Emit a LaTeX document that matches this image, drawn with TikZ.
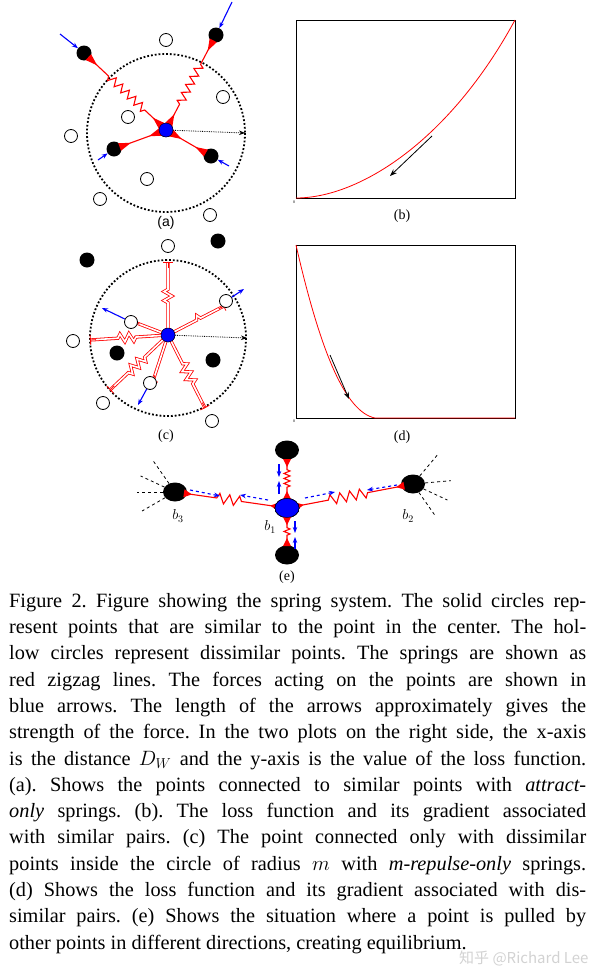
\documentclass[tikz,border=0pt]{standalone}
\usepackage{fontspec}
\setmainfont{Liberation Serif}
\newfontfamily\lsans{Liberation Sans}
\newfontfamily\cjk{Noto Sans CJK SC}
\usetikzlibrary{decorations.pathmorphing,arrows.meta,calc,shapes.geometric}
\frenchspacing
\begin{document}
\begin{tikzpicture}[x=1pt,y=-1pt,
  hol/.style={circle,draw,thick,fill=white,minimum size=13pt,inner sep=0},
  sol/.style={circle,fill=black,minimum size=15pt,inner sep=0},
  ctr/.style={circle,draw=black,fill=blue,minimum size=14pt,inner sep=0},
  spr/.style={red,line width=1.1pt,decorate,decoration={zigzag,segment length=9pt,amplitude=4pt,pre length=22pt,post length=22pt}},
  rspr/.style={draw=red,double=white,double distance=1.6pt,thick,decorate,decoration={zigzag,segment length=9pt,amplitude=4pt,pre length=25pt,post length=25pt}},
  force/.style={blue,line width=1.1pt,-{Stealth[length=6pt]}},
  dforce/.style={blue,line width=1.1pt,dashed,-{Stealth[length=6pt]}},
  radius/.style={densely dotted,thick,-{Stealth[length=6pt]}},
  bnd/.style={dotted,line width=1.8pt},
  ray/.style={dashed,thick},
  lab/.style={font=\fontsize{14}{14}\selectfont}
]
\useasboundingbox (0,0) rectangle (600,972);
\newcommand\sprtri[4]{% node, other, base offset, apex offset
  \fill[red] ($(#1)!#3!(#2)!4pt!90:(#2)$) -- ($(#1)!#3!(#2)!4pt!-90:(#2)$) -- ($(#1)!#4!(#2)$) -- cycle;}
% ---------- (a)
\draw[bnd] (166,133) circle (79);
\node[ctr] (ac) at (166,130) {};
\node[sol] (a1) at (84,53) {};
\node[sol] (a2) at (216,35) {};
\node[sol] (a3) at (114,149) {};
\node[sol] (a4) at (211,156) {};
\foreach \n/\p in {h1/{(166,40)},h2/{(223,97)},h3/{(128,117)},h4/{(71,136)},h5/{(147,179)},h6/{(100,199)},h7/{(210,215)}}
  \node[hol] (a\n) at \p {};
\foreach \t in {a1,a2,a3,a4}{
  \draw[spr] (ac) -- (\t);
  \sprtri{ac}{\t}{6pt}{18pt}
  \sprtri{\t}{ac}{6pt}{18pt}
}
\node[ctr] at (ac) {};
\coordinate (aq1) at (60,34); \coordinate (aq2) at (232,2);
\coordinate (aq3) at (98,160); \coordinate (aq4) at (229,166);
\draw[force] (aq1) -- (a1); \draw[force] (aq2) -- (a2);
\draw[force] (aq3) -- (a3); \draw[force] (aq4) -- (a4);
\coordinate (ar) at (245,133);
\draw[radius] (ac) -- (ar);
\node[lab,font=\lsans\fontsize{14}{14}\selectfont] (la) at (166,223) {(a)};
% ---------- (b)
\draw[thin] (296,20) rectangle (515,198);
\node[font=\fontsize{4}{4}\selectfont] (b0) at (294,202) {0};
\draw[red,thick] (296,198) .. controls (360,198) and (450,140) .. (515,20);
\coordinate (bs) at (432,136); \coordinate (be) at (390,176);
\draw[thick,-{Stealth[length=7pt]}] (bs) -- (be);
\node[lab] (lb) at (402,216) {(b)};
% ---------- (c)
\draw[bnd] (168,338) circle (78);
\node[ctr] (cc) at (168,335) {};
\node[sol] (c1) at (87,260) {};
\node[sol] (c2) at (218,241) {};
\node[sol] (c3) at (117,353) {};
\node[sol] (c4) at (213,360) {};
\coordinate (ct1) at (168,262); \coordinate (ct2) at (224,306);
\coordinate (ct3) at (90,340);  \coordinate (ct4) at (110,390);
\coordinate (ct5) at (205,408); \coordinate (ct6) at (134,322);
\coordinate (ct7) at (153,381);
\foreach \t in {ct1,ct2,ct3,ct4,ct5,ct6,ct7}{
  \draw[rspr] (cc) -- (\t);
  \draw[red,thick,-{Bar[width=10pt]}] ($(\t)!6pt!(cc)$) -- (\t);
}
\node[hol] (ch1) at (168,246) {};
\node[hol] (ch2) at (226,301) {};
\node[hol] (ch3) at (131,322) {};
\node[hol] (ch4) at (73,341) {};
\node[hol] (ch5) at (150,383) {};
\node[hol] (ch6) at (103,403) {};
\node[hol] (ch7) at (212,421) {};
\node[ctr] at (cc) {};
\coordinate (cf1) at (102,308); \coordinate (cf2) at (244,289); \coordinate (cf3) at (138,405);
\draw[force] (ch3) -- (cf1); \draw[force] (ch2) -- (cf2); \draw[force] (ch5) -- (cf3);
\coordinate (cr) at (247,338);
\draw[radius] (cc) -- (cr);
\node[lab] (lc) at (166,436) {(c)};
% ---------- (d)
\draw[thin] (296,245) rectangle (515,418);
\node[font=\fontsize{4}{4}\selectfont] (d0) at (294,421) {0};
\draw[red,thick] (296,245) .. controls (320,350) and (345,412) .. (375,418) -- (515,418);
\coordinate (ds) at (330,355); \coordinate (de) at (349,399);
\draw[thick,-{Stealth[length=7pt]}] (ds) -- (de);
\node[lab] (ld) at (402,437) {(d)};
% ---------- (e)
\tikzset{eb/.style={ellipse,fill=black,minimum width=24pt,minimum height=19pt,inner sep=0},
         ebc/.style={ellipse,draw=black,fill=blue,minimum width=24pt,minimum height=19pt,inner sep=0}}
\node[ebc] (e1) at (287,508) {};
\node[eb] (et) at (287,450) {};
\node[eb] (eb) at (287,555) {};
\node[eb] (e3) at (175,492) {};
\node[eb] (e2) at (413,484) {};
\foreach \a in {150,180,205,235}{
  \coordinate (r3\a) at ($(e3)+(\a:38)$);
  \draw[ray] (e3) -- (r3\a);}
\foreach \a in {-50,-5,25,55}{
  \coordinate (r2\a) at ($(e2)+(\a:38)$);
  \draw[ray] (e2) -- (r2\a);}
\tikzset{espr/.style={red,line width=1.1pt,decorate,decoration={zigzag,segment length=10pt,amplitude=5pt,pre length=30pt,post length=30pt}},
         esprv/.style={red,line width=1.1pt,decorate,decoration={zigzag,segment length=5pt,amplitude=3pt,pre length=10pt,post length=10pt}}}
\draw[espr] (e3) -- (e1);
\draw[espr] (e1) -- (e2);
\draw[esprv] (et) -- (e1);
\draw[esprv] (e1) -- (eb);
\foreach \s/\t in {e3/e1,e1/e3,e1/e2,e2/e1,et/e1,e1/et,eb/e1,e1/eb}
  \sprtri{\s}{\t}{9pt}{17pt}
\node[ebc] at (e1) {};
\draw[dforce] (190,490) -- (220,496);
\draw[dforce] (268,500) -- (240,495);
\draw[dforce] (305,498) -- (335,492);
\draw[dforce] (397,485) -- (367,490);
\draw[force] (279,464) -- (279,477);
\draw[force] (279,494) -- (279,481);
\draw[force] (295,521) -- (295,533);
\draw[force] (295,549) -- (295,537);
\node[font=\fontsize{14}{14}\selectfont] (lb3) at (178,516) {$b_3$};
\node[font=\fontsize{14}{14}\selectfont] (lb1) at (270,527) {$b_1$};
\node[font=\fontsize{14}{14}\selectfont] (lb2) at (408,516) {$b_2$};
\node[lab] (le) at (287,577) {(e)};
% ---------- caption
\node[anchor=north west,inner sep=0,align=left,font=\fontsize{20.3}{26.3}\selectfont] (cap) at (9,593) {%
\makebox[577pt][s]{Figure 2. Figure showing the spring system. The solid circles rep-}\\
\makebox[577pt][s]{resent points that are similar to the point in the center. The hol-}\\
\makebox[577pt][s]{low circles represent dissimilar points. The springs are shown as}\\
\makebox[577pt][s]{red zigzag lines. The forces acting on the points are shown in}\\
\makebox[577pt][s]{blue arrows. The length of the arrows approximately gives the}\\
\makebox[577pt][s]{strength of the force. In the two plots on the right side, the x-axis}\\
\makebox[577pt][s]{is the distance $D_W$ and the y-axis is the value of the loss function.}\\
\makebox[577pt][s]{(a). Shows the points connected to similar points with \emph{attract-}}\\
\makebox[577pt][s]{\emph{only} springs. (b). The loss function and its gradient associated}\\
\makebox[577pt][s]{with similar pairs. (c) The point connected only with dissimilar}\\
\makebox[577pt][s]{points inside the circle of radius $m$ with \emph{m-repulse-only} springs.}\\
\makebox[577pt][s]{(d) Shows the loss function and its gradient associated with dis-}\\
\makebox[577pt][s]{similar pairs. (e) Shows the situation where a point is pulled by}\\
other points in different directions, creating equilibrium.};
\node[anchor=south east,text=gray!35,font=\cjk\fontsize{15}{15}\selectfont] (wm) at (592,970) {知乎 @Richard Lee};
\end{tikzpicture}
\end{document}
